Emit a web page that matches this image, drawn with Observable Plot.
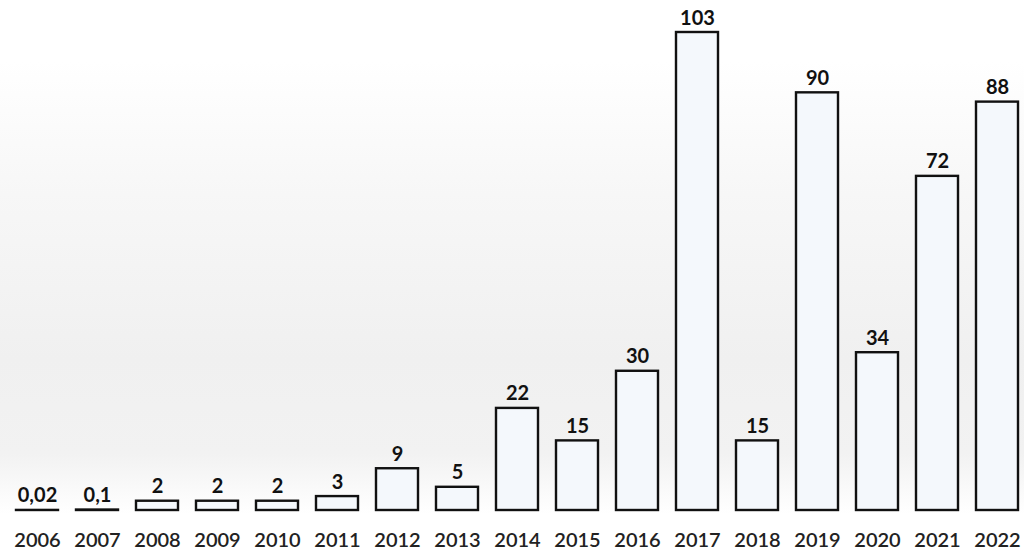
<!DOCTYPE html>
<html>
<head>
<meta charset="utf-8">
<script src="https://cdn.jsdelivr.net/npm/d3@7"></script>
<script src="https://cdn.jsdelivr.net/npm/@observablehq/plot@0.6"></script>
<style>
  html, body { margin: 0; padding: 0; background: #ffffff; }
  #chart {
    width: 1024px; height: 553px;
    background: linear-gradient(to bottom, #ffffff 0%, #ffffff 11%, #f7f7f7 35%, #f0f0f0 65%, #f2f2f2 82%, #ffffff 93%, #ffffff 100%);
  }
  #chart svg { display: block; }
</style>
</head>
<body>
<div id="chart"></div>
<script>
const years = ["2006","2007","2008","2009","2010","2011","2012","2013","2014","2015","2016","2017","2018","2019","2020","2021","2022"];
const values = [0.02, 0.1, 2, 2, 2, 3, 9, 5, 22, 15, 30, 103, 15, 90, 34, 72, 88];
const valueLabels = ["0,02","0,1","2","2","2","3","9","5","22","15","30","103","15","90","34","72","88"];

const data = years.map((y, i) => ({year: y, value: values[i], label: valueLabels[i]}));

const chart = Plot.plot({
  width: 1024,
  height: 553,
  marginLeft: 9,
  marginRight: 0,
  marginTop: 32,
  marginBottom: 43,
  style: {fontFamily: "Lato, 'Open Sans', sans-serif", background: "none"},
  x: {domain: years, paddingInner: 0.3, paddingOuter: 0.08, label: null},
  y: {domain: [0, 103], axis: null},
  marks: [
    Plot.barY(data, {x: "year", y: "value", fill: "#f4f8fc", stroke: "#111", strokeWidth: 2.4}),
    Plot.text(data, {x: "year", y: "value", text: "label", lineAnchor: "bottom", dy: -8,
      fontSize: 20, fontWeight: "bold", fill: "#111"}),
    Plot.axisX({tickSize: 0, tickPadding: 22, fontSize: 20, fontWeight: 600, fill: "#222", label: null})
  ]
});
document.getElementById("chart").appendChild(chart);
</script>
</body>
</html>
